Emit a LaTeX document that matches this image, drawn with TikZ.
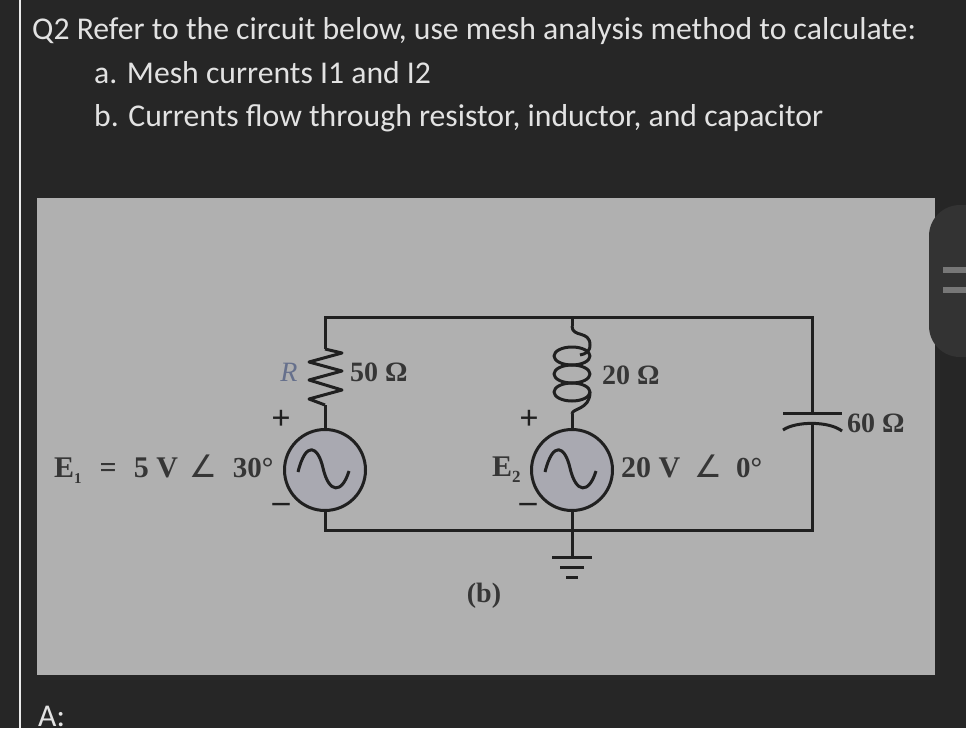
\documentclass[tikz,border=0pt]{standalone}
\usepackage{fontspec}
\setmainfont{Carlito}
\newfontfamily\lab{Liberation Serif}
\newfontfamily\sym{DejaVu Sans}
\usetikzlibrary{calc}
\definecolor{bg}{HTML}{262626}
\definecolor{panel}{HTML}{B0B0B0}
\definecolor{pill}{HTML}{333333}
\definecolor{bar}{HTML}{777777}
\definecolor{txt}{HTML}{E2E2E2}
\definecolor{ink}{HTML}{202020}
\definecolor{srcfill}{HTML}{A9A9B1}
\definecolor{rcol}{HTML}{66708C}
\tikzset{
  x=1pt,y=-1pt,
  qtext/.style={anchor=base west,inner sep=0pt,text=txt,font=\fontsize{31.7}{32}\selectfont},
  wire/.style={draw=ink,line width=3pt,line join=miter},
  part/.style={draw=ink,line width=3pt,line join=round},
  source/.style={circle,draw=ink,line width=3pt,fill=srcfill,minimum size=81pt,inner sep=0pt},
  clab/.style={inner sep=0pt,text=ink!90,font=\lab\bfseries\fontsize{28}{28}\selectfont},
  plab/.style={inner sep=0pt,text=ink,font=\lab\bfseries\fontsize{34}{34}\selectfont},
}
\newcommand{\angl}{{\sym\mdseries\fontsize{31}{31}\selectfont ∠}}
\begin{document}
\begin{tikzpicture}
\useasboundingbox (0,0) rectangle (966,728);
\fill[bg] (0,0) rectangle (966,728);
\fill[white!92!black] (19,0) rectangle (20.5,728);
% question text
\node[qtext] (q) at (32,39) {Q2 Refer to the circuit below, use mesh analysis method to calculate:};
\node[qtext] (qa) at (94,83) {a. Mesh currents I1 and I2};
\node[qtext] (qb) at (94,126) {b. Currents flow through resistor, inductor, and capacitor};
\node[qtext] (ans) at (38,726) {A:};
% panel
\fill[panel] (37,198) rectangle (935,675);
% side handle
\fill[pill,rounded corners=31pt] (929,205) rectangle (1010,357);
\fill[bar] (943,267) rectangle (966,273);
\fill[bar] (943,287) rectangle (966,293);
% named points
\node[source] (s1) at (325,470) {};
\node[source] (s2) at (572,470) {};
\coordinate (tl) at (325,317);
\coordinate (tm) at (572,317);
\coordinate (tr) at (812,317);
\coordinate (bl) at (325,530);
\coordinate (bm) at (572,530);
\coordinate (br) at (812,530);
\coordinate (r1) at (325,349);
\coordinate (r2) at (325,405);
\coordinate (l1) at (572,326);
\coordinate (l2) at (572,414);
\coordinate (c1) at (812,413);
\coordinate (c2) at (812,423);
\coordinate (g) at (572,557);
% wires
\draw[wire] (r1) -- (tl) -- (tr) -- (c1);
\draw[wire] (tm) -- (l1);
\draw[wire] (c2) -- (br) -- (bl) -- (s1.south);
\draw[wire] (s1.north) -- (r2);
\draw[wire] (s2.north) -- (l2);
\draw[wire] (s2.south) -- (g);
% resistor
\draw[part] (r1) -- (342,353) -- (309,362) -- (342,371) -- (309,380) -- (342,390) -- (309,399) -- (r2);
% inductor
\draw[part] (l1) .. controls (572,338) and (590,330) .. (590,345) .. controls (590,352) and (585,354) .. (580,355);
\draw[part] (l2) .. controls (572,408) and (590,410) .. (590,392);
\foreach \cy in {356,374,392}
  \draw[part] (572,\cy) ellipse[x radius=18,y radius=9];
% capacitor
\draw[part] (783,413.5) -- (842,413.5);
\draw[part] (783,430) .. controls (796,421) and (829,421) .. (842,431);
% ground
\draw[part] (552,557) -- (592,557);
\draw[part] (560,567) -- (584,567);
\draw[part] (566,577) -- (578,577);
% source sines
\draw[part] (298,472) .. controls (306,440) and (318,446) .. (323,468) .. controls (329,494) and (342,494) .. (349,471);
\draw[part] (545,472) .. controls (553,440) and (565,446) .. (570,468) .. controls (576,494) and (589,494) .. (596,471);
% polarity
\node[plab] (p1) at (281,420) {+};
\node[plab] (m1) at (281,508) {\char"2013};
\node[plab] (p2) at (529,420) {+};
\node[plab] (m2) at (528,508) {\char"2013};
% labels
\node[inner sep=0pt,text=rcol,font=\lab\itshape\fontsize{28}{28}\selectfont] (rl) at (289,372) {R};
\node[clab,anchor=west] (r50) at (350,372) {50 Ω};
\node[clab,anchor=west] (l20) at (602,375) {20 Ω};
\node[clab,anchor=west] (c60) at (847,423) {60 Ω};
\node[clab,anchor=west] (e1) at (54,469) {\fontsize{30}{30}\selectfont E\raisebox{-6pt}{\fontsize{15}{15}\selectfont 1}\hspace{18pt}=\hspace{17pt}5 V\hspace{12pt}\angl\hspace{15pt}\fontsize{29}{29}\selectfont 30°};
\node[clab,anchor=west] (e2) at (492,470) {\fontsize{30}{30}\selectfont E\raisebox{-6pt}{\fontsize{17}{17}\selectfont 2}};
\node[clab,anchor=west] (e2v) at (621,466) {\fontsize{30}{30}\selectfont 20 V\hspace{14pt}\angl\hspace{14pt}\fontsize{29}{29}\selectfont 0°};
\node[clab] (b) at (484,596) {(b)};
\end{tikzpicture}
\end{document}
